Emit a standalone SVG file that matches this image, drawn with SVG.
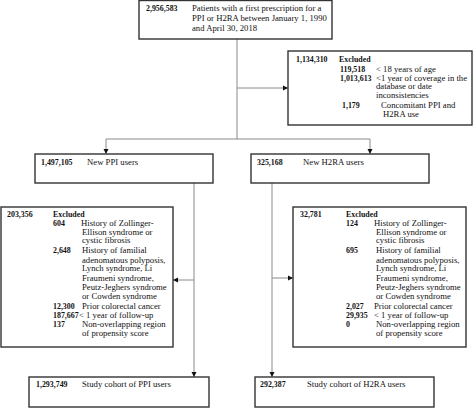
<svg xmlns="http://www.w3.org/2000/svg" width="474" height="408" viewBox="0 0 474 408">
<defs>
<style>
.box{fill:#fff;stroke:#333;stroke-width:1.4}
.ln{fill:none;stroke:#8a8a8a;stroke-width:1}
text{font-family:"Liberation Serif","Times New Roman",serif;font-size:8.7px;fill:#111}
.b{font-weight:bold;font-size:7.9px}
</style>
<marker id="ah" markerWidth="6" markerHeight="6" refX="5" refY="3" orient="auto" markerUnits="userSpaceOnUse">
<path d="M0,0.5 L5,3 L0,5.5 Z" fill="#111"/>
</marker>
</defs>
<rect width="474" height="408" fill="#fff"/>
<g id="connectors">
<line class="ln" x1="237" y1="39" x2="237" y2="139"/>
<line class="ln" x1="237" y1="88" x2="288" y2="88" marker-end="url(#ah)"/>
<line class="ln" x1="106" y1="139" x2="370" y2="139"/>
<line class="ln" x1="106" y1="139" x2="106" y2="154" marker-end="url(#ah)"/>
<line class="ln" x1="370" y1="139" x2="370" y2="154" marker-end="url(#ah)"/>
<line class="ln" x1="194" y1="183" x2="194" y2="377" marker-end="url(#ah)"/>
<line class="ln" x1="194" y1="280" x2="173" y2="280" marker-end="url(#ah)"/>
<line class="ln" x1="272" y1="183" x2="272" y2="377" marker-end="url(#ah)"/>
<line class="ln" x1="272" y1="278" x2="293" y2="278" marker-end="url(#ah)"/>
</g>
<g id="start">
<rect class="box" x="139" y="0.5" width="193" height="38.5"/>
<text class="b" x="146" y="11">2,956,583</text>
<text x="192" y="11">Patients with a first prescription for a</text>
<text x="192" y="21">PPI or H2RA between January 1, 1990</text>
<text x="192" y="31">and April 30, 2018</text>
</g>
<g id="excluded1">
<rect class="box" x="288" y="51" width="184" height="74"/>
<text class="b" x="296" y="62">1,134,310</text>
<text class="b" x="339" y="62">Excluded</text>
<text class="b" x="340" y="71.7">119,518</text>
<text x="376" y="71.7">&lt; 18 years of age</text>
<text class="b" x="340" y="80.7">1,013,613</text>
<text x="376" y="80.7">&lt;1 year of coverage in the</text>
<text x="376" y="89.3">database or date</text>
<text x="376" y="98.3">inconsistencies</text>
<text class="b" x="342" y="108.3">1,179</text>
<text x="381" y="108.3">Concomitant PPI and</text>
<text x="383" y="117">H2RA use</text>
</g>
<g id="ppi">
<rect class="box" x="35" y="154" width="178" height="29"/>
<text class="b" x="41" y="165">1,497,105</text>
<text x="87" y="165">New PPI users</text>
</g>
<g id="h2ra">
<rect class="box" x="251" y="154" width="178" height="29"/>
<text class="b" x="257" y="165">325,168</text>
<text x="303" y="165">New H2RA users</text>
</g>
<g id="excludedPPI">
<rect class="box" x="1" y="207" width="172" height="140"/>
<text class="b" x="7" y="217">203,356</text>
<text class="b" x="53" y="217">Excluded</text>
<text class="b" x="53" y="226">604</text>
<text x="81" y="226">History of Zollinger-</text>
<text x="82" y="234.7">Ellison syndrome or</text>
<text x="82" y="243.3">cystic fibrosis</text>
<text class="b" x="53" y="253.3">2,648</text>
<text x="82" y="253.3">History of familial</text>
<text x="82" y="262.7">adenomatous polyposis,</text>
<text x="82" y="271.3">Lynch syndrome, Li</text>
<text x="82" y="280.7">Fraumeni syndrome,</text>
<text x="82" y="290">Peutz-Jeghers syndrome</text>
<text x="82" y="299.3">or Cowden syndrome</text>
<text class="b" x="53" y="309">12,300</text>
<text x="82" y="309">Prior colorectal cancer</text>
<text class="b" x="53" y="318.3">187,667</text>
<text x="79" y="318.3">&lt; 1 year of follow-up</text>
<text class="b" x="53" y="327.3">137</text>
<text x="82" y="327.3">Non-overlapping region</text>
<text x="82" y="336">of propensity score</text>
</g>
<g id="excludedH2RA">
<rect class="box" x="293" y="207" width="173" height="140"/>
<text class="b" x="300" y="217">32,781</text>
<text class="b" x="346" y="217">Excluded</text>
<text class="b" x="346" y="226">124</text>
<text x="374" y="226">History of Zollinger-</text>
<text x="376" y="234.7">Ellison syndrome or</text>
<text x="376" y="243.3">cystic fibrosis</text>
<text class="b" x="346" y="253.3">695</text>
<text x="376" y="253.3">History of familial</text>
<text x="376" y="262.7">adenomatous polyposis,</text>
<text x="376" y="271.3">Lynch syndrome, Li</text>
<text x="376" y="280.7">Fraumeni syndrome,</text>
<text x="376" y="290">Peutz-Jeghers syndrome</text>
<text x="376" y="299.3">or Cowden syndrome</text>
<text class="b" x="346" y="309">2,027</text>
<text x="374" y="309">Prior colorectal cancer</text>
<text class="b" x="346" y="318.3">29,935</text>
<text x="374" y="318.3">&lt; 1 year of follow-up</text>
<text class="b" x="346" y="327.3">0</text>
<text x="376" y="327.3">Non-overlapping region</text>
<text x="376" y="336">of propensity score</text>
</g>
<g id="cohortPPI">
<rect class="box" x="29" y="377" width="180" height="30"/>
<text class="b" x="36" y="387">1,293,749</text>
<text x="82" y="387">Study cohort of PPI users</text>
</g>
<g id="cohortH2RA">
<rect class="box" x="255" y="377" width="179" height="30"/>
<text class="b" x="260" y="387">292,387</text>
<text x="307" y="387">Study cohort of H2RA users</text>
</g>
</svg>
